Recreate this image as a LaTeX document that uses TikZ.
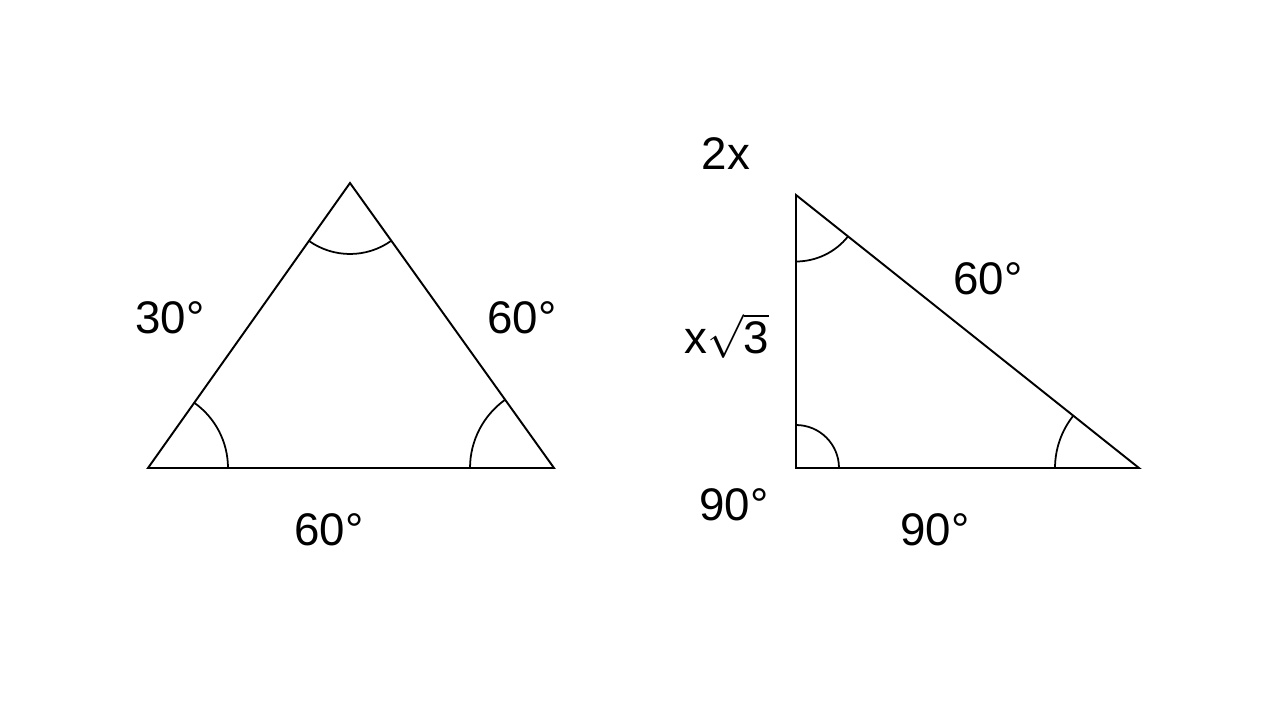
\documentclass[tikz,border=0pt]{standalone}
\usepackage{fontspec}
\setmainfont{Liberation Sans}
\usetikzlibrary{angles}

\begin{document}
\begin{tikzpicture}[x=0.02cm, y=-0.02cm, line width=1.1pt,
        LBL/.style={font=\fontsize{26}{30}\selectfont, inner sep=0pt},
        ARC/.style={draw, line width=1pt}]
        \useasboundingbox (0,0) rectangle (1280,720);

        % left triangle
        \coordinate (A) at (148,468);
        \coordinate (B) at (350,183);
        \coordinate (C) at (554,468);
        \draw[line join=miter] (A) -- (B) -- (C) -- cycle;

        \pic[ARC, angle radius=1.6cm] {angle = C--A--B};
        \pic[ARC, angle radius=1.42cm] {angle = A--B--C};
        \pic[ARC, angle radius=1.68cm] {angle = B--C--A};

        \node[LBL] (l30) at (170,318) {30°};
        \node[LBL] (l60a) at (522,318) {60°};
        \node[LBL] (l60b) at (329,530) {60°};

        % right triangle
        \coordinate (P) at (796,195);
        \coordinate (Q) at (796,468);
        \coordinate (R) at (1139,468);
        \draw[line join=miter] (P) -- (Q) -- (R) -- cycle;

        \pic[ARC, angle radius=1.33cm] {angle = Q--P--R};
        \pic[ARC, angle radius=0.86cm] {angle = R--Q--P};
        \pic[ARC, angle radius=1.68cm] {angle = P--R--Q};

        \node[LBL] (l2x) at (726,154) {2x};
        \node[LBL] (l60c) at (988,279) {60°};
        \node[LBL] (lsq) at (727,336) {x$\sqrt{\mbox{3}}$};
        \node[LBL] (l90a) at (734,505) {90°};
        \node[LBL] (l90b) at (935,530) {90°};
\end{tikzpicture}
\end{document}
